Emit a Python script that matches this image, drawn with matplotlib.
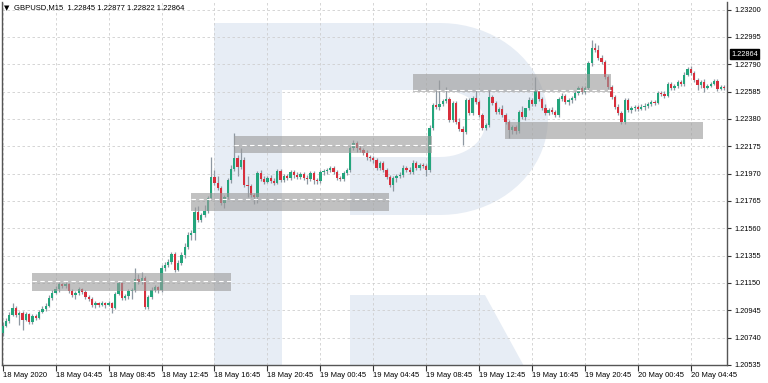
import numpy as np
import matplotlib.pyplot as plt
import matplotlib.transforms as mtransforms
from matplotlib.patches import Rectangle, Polygon

# GBPUSD M15 candles, 18 May 00:45 onwards
first_open = 1.20774
close = [
    1.20827, 1.20864, 1.20909, 1.20962, 1.20909, 1.20924, 1.20872, 1.20917, 1.20857, 1.20902,
    1.20887, 1.20932, 1.20954, 1.20977, 1.21037, 1.21074, 1.21104, 1.21142, 1.21127, 1.21142,
    1.21089, 1.21059, 1.21074, 1.21104, 1.21082, 1.21044, 1.21029, 1.20984, 1.20999, 1.20984,
    1.20999, 1.20984, 1.20999, 1.20962, 1.21067, 1.21149, 1.21037, 1.21052, 1.21089, 1.21097,
    1.21179, 1.21157, 1.21187, 1.20969, 1.21044, 1.21097, 1.21119, 1.21097, 1.21262, 1.21284,
    1.21307, 1.21367, 1.21247, 1.21299, 1.21359, 1.21419, 1.21509, 1.21524, 1.21682, 1.21622,
    1.21659, 1.21689, 1.21787, 1.21944, 1.21899, 1.21862, 1.21749, 1.21794, 1.21922, 1.22004,
    1.22087, 1.22019, 1.22072, 1.21884, 1.21877, 1.21809, 1.21794, 1.21974, 1.21929, 1.21907,
    1.21937, 1.21914, 1.21899, 1.21989, 1.21922, 1.21952, 1.21937, 1.21982, 1.21959, 1.21944,
    1.21967, 1.21937, 1.21929, 1.21974, 1.21922, 1.21914, 1.21982, 1.21989, 1.21997, 1.22012,
    1.21982, 1.21937, 1.21929, 1.21974, 1.21997, 1.22162, 1.22199, 1.22162, 1.22147, 1.22124,
    1.22094, 1.22087, 1.22072, 1.22012, 1.22049, 1.21997, 1.21944, 1.21884, 1.21937, 1.21952,
    1.21959, 1.22012, 1.21997, 1.21982, 1.22049, 1.22012, 1.22034, 1.22027, 1.21997, 1.22312,
    1.22484, 1.22469, 1.22492, 1.22514, 1.22529, 1.22372, 1.22499, 1.22357, 1.22304, 1.22282,
    1.22522, 1.22424, 1.22537, 1.22507, 1.22409, 1.22312, 1.22334, 1.22544, 1.22499, 1.22432,
    1.22454, 1.22409, 1.22357, 1.22297, 1.22319, 1.22289, 1.22432, 1.22394, 1.22462, 1.22522,
    1.22492, 1.22589, 1.22529, 1.22462, 1.22424, 1.22447, 1.22432, 1.22409, 1.22529, 1.22552,
    1.22507, 1.22522, 1.22537, 1.22574, 1.22612, 1.22582, 1.22612, 1.22799, 1.22912, 1.22897,
    1.22837, 1.22807, 1.22694, 1.22619, 1.22544, 1.22469, 1.22424, 1.22357, 1.22522, 1.22447,
    1.22462, 1.22469, 1.22454, 1.22469, 1.22477, 1.22492, 1.22507, 1.22499, 1.22574, 1.22567,
    1.22552, 1.22642, 1.22612, 1.22627, 1.22657, 1.22642, 1.22709, 1.22754, 1.22724, 1.22672,
    1.22634, 1.22657, 1.22612, 1.22627, 1.22642, 1.22664, 1.22604, 1.22619, 1.22612,
]
high = [
    1.20857, 1.20887, 1.20932, 1.20999, 1.20977, 1.20939, 1.20939, 1.20932, 1.20924, 1.20917,
    1.20917, 1.20947, 1.20977, 1.20999, 1.21059, 1.21097, 1.21127, 1.21157, 1.21149, 1.21157,
    1.21149, 1.21104, 1.21089, 1.21119, 1.21112, 1.21097, 1.21059, 1.21044, 1.21014, 1.21007,
    1.21014, 1.21007, 1.21014, 1.21007, 1.21082, 1.21164, 1.21157, 1.21067, 1.21104, 1.21112,
    1.21262, 1.21217, 1.21232, 1.21202, 1.21059, 1.21119, 1.21134, 1.21127, 1.21284, 1.21307,
    1.21329, 1.21382, 1.21382, 1.21322, 1.21382, 1.21449, 1.21532, 1.21547, 1.21719, 1.21727,
    1.21674, 1.21734, 1.21802, 1.22094, 1.21997, 1.21952, 1.21877, 1.21809, 1.21937, 1.22034,
    1.22274, 1.22109, 1.22162, 1.22094, 1.21952, 1.21892, 1.21824, 1.21989, 1.21997, 1.21952,
    1.21952, 1.21959, 1.21937, 1.22004, 1.22004, 1.21967, 1.21967, 1.21997, 1.21997, 1.21982,
    1.21982, 1.21982, 1.21959, 1.21989, 1.21989, 1.21937, 1.21997, 1.22004, 1.22012, 1.22027,
    1.22027, 1.21997, 1.21952, 1.21989, 1.22012, 1.22177, 1.22222, 1.22214, 1.22184, 1.22162,
    1.22147, 1.22109, 1.22102, 1.22087, 1.22064, 1.22064, 1.22012, 1.21959, 1.21952, 1.21967,
    1.21982, 1.22034, 1.22027, 1.22019, 1.22072, 1.22064, 1.22049, 1.22049, 1.22042, 1.22334,
    1.22499, 1.22597, 1.22672, 1.22529, 1.22619, 1.22544, 1.22514, 1.22514, 1.22387, 1.22327,
    1.22537, 1.22537, 1.22552, 1.22597, 1.22522, 1.22424, 1.22349, 1.22597, 1.22559, 1.22514,
    1.22469, 1.22484, 1.22424, 1.22372, 1.22334, 1.22334, 1.22447, 1.22477, 1.22462, 1.22544,
    1.22537, 1.22694, 1.22604, 1.22544, 1.22492, 1.22462, 1.22469, 1.22447, 1.22544, 1.22574,
    1.22567, 1.22537, 1.22552, 1.22589, 1.22627, 1.22627, 1.22627, 1.22814, 1.22972, 1.22949,
    1.22934, 1.22859, 1.22822, 1.22709, 1.22634, 1.22559, 1.22492, 1.22439, 1.22537, 1.22537,
    1.22477, 1.22484, 1.22484, 1.22492, 1.22499, 1.22507, 1.22522, 1.22522, 1.22589, 1.22589,
    1.22589, 1.22657, 1.22657, 1.22642, 1.22672, 1.22672, 1.22732, 1.22769, 1.22777, 1.22739,
    1.22687, 1.22672, 1.22679, 1.22642, 1.22657, 1.22679, 1.22679, 1.22634, 1.22634,
]
low = [
    1.20752, 1.20819, 1.20849, 1.20902, 1.20894, 1.20834, 1.20797, 1.20864, 1.20842, 1.20842,
    1.20872, 1.20879, 1.20924, 1.20939, 1.20969, 1.21022, 1.21067, 1.21082, 1.21112, 1.21112,
    1.21074, 1.21044, 1.21029, 1.21059, 1.21067, 1.21029, 1.21014, 1.20969, 1.20962, 1.20969,
    1.20977, 1.20962, 1.20977, 1.20924, 1.20954, 1.21059, 1.21022, 1.21022, 1.21029, 1.21029,
    1.21082, 1.21142, 1.21142, 1.20954, 1.20954, 1.21029, 1.21082, 1.21074, 1.21082, 1.21239,
    1.21269, 1.21292, 1.21232, 1.21239, 1.21284, 1.21337, 1.21404, 1.21472, 1.21472, 1.21607,
    1.21607, 1.21644, 1.21674, 1.21772, 1.21884, 1.21847, 1.21734, 1.21712, 1.21779, 1.21899,
    1.21989, 1.21952, 1.22004, 1.21869, 1.21794, 1.21794, 1.21742, 1.21749, 1.21914, 1.21892,
    1.21899, 1.21899, 1.21884, 1.21892, 1.21907, 1.21907, 1.21922, 1.21922, 1.21937, 1.21929,
    1.21929, 1.21922, 1.21892, 1.21914, 1.21892, 1.21892, 1.21899, 1.21959, 1.21967, 1.21982,
    1.21967, 1.21922, 1.21914, 1.21914, 1.21959, 1.21982, 1.22147, 1.22132, 1.22132, 1.22109,
    1.22072, 1.22064, 1.22049, 1.21997, 1.21997, 1.21982, 1.21929, 1.21869, 1.21839, 1.21907,
    1.21937, 1.21944, 1.21982, 1.21967, 1.21967, 1.21997, 1.21997, 1.22012, 1.21952, 1.21982,
    1.22297, 1.22454, 1.22447, 1.22477, 1.22499, 1.22357, 1.22357, 1.22342, 1.22289, 1.22184,
    1.22267, 1.22409, 1.22409, 1.22492, 1.22394, 1.22297, 1.22297, 1.22319, 1.22484, 1.22417,
    1.22417, 1.22394, 1.22342, 1.22237, 1.22267, 1.22267, 1.22274, 1.22379, 1.22372, 1.22447,
    1.22477, 1.22477, 1.22514, 1.22447, 1.22409, 1.22409, 1.22417, 1.22394, 1.22394, 1.22514,
    1.22492, 1.22484, 1.22499, 1.22522, 1.22559, 1.22567, 1.22567, 1.22597, 1.22777, 1.22882,
    1.22822, 1.22792, 1.22679, 1.22604, 1.22529, 1.22454, 1.22409, 1.22342, 1.22342, 1.22432,
    1.22424, 1.22439, 1.22439, 1.22447, 1.22447, 1.22462, 1.22477, 1.22484, 1.22492, 1.22552,
    1.22537, 1.22544, 1.22597, 1.22597, 1.22612, 1.22627, 1.22627, 1.22702, 1.22709, 1.22657,
    1.22597, 1.22612, 1.22582, 1.22604, 1.22619, 1.22634, 1.22589, 1.22597, 1.22597,
]
open_ = [first_open] + close[:-1]

time_labels = [
    "18 May 2020", "18 May 04:45", "18 May 08:45", "18 May 12:45", "18 May 16:45",
    "18 May 20:45", "19 May 00:45", "19 May 04:45", "19 May 08:45", "19 May 12:45",
    "19 May 16:45", "19 May 20:45", "20 May 00:45", "20 May 04:45",
]
bars_per_label = 16
price_ticks = [1.20535, 1.20740, 1.20945, 1.21150, 1.21355, 1.21560, 1.21765,
               1.21970, 1.22175, 1.22380, 1.22585, 1.22790, 1.22995, 1.23200]

# support / resistance zones: first bar, last bar, low, high, dashed level
zones = [
    (8.9, 69.0, 1.21089, 1.21225, 1.21164),
    (56.9, 116.7, 1.21690, 1.21825, 1.21780),
    (69.9, 129.7, 1.22125, 1.22252, 1.22184),
    (124.0, 183.8, 1.22582, 1.22717, 1.22597),
    (151.8, 211.6, 1.22230, 1.22357, None),
]
last_price = 1.22864
title = "GBPUSD,M15  1.22845 1.22877 1.22822 1.22864"

W, H = 768, 383
fonts = ["Liberation Sans", "DejaVu Sans"]
plt.rcParams["font.family"] = fonts

fig = plt.figure(figsize=(W / 100, H / 100), dpi=100)
fig.patch.set_facecolor("white")
ax = fig.add_axes([2 / W, 1 - 365 / H, 725 / W, 363 / H])

# watermark logo, drawn in pixel space
px = mtransforms.Affine2D().scale(1 / W, -1 / H).translate(0, 1) + fig.transFigure
wm = "#e7edf5"
ax.add_patch(Polygon([(214, 23), (282, 23), (282, 368), (214, 368)], closed=True,
                     transform=px, fc=wm, ec="none", zorder=0))
t_out = np.linspace(-np.pi / 2, np.pi / 2, 40)
t_in = np.linspace(np.pi / 2, -np.pi / 2, 30)
bowl = [(282, 23)]
bowl += [(440 + 108 * np.cos(t), 119 + 96 * np.sin(t)) for t in t_out]
bowl += [(350, 215), (350, 157)]
bowl += [(440 + 45 * np.cos(t), 123.5 + 33.5 * np.sin(t)) for t in t_in]
bowl += [(282, 90)]
ax.add_patch(Polygon(bowl, closed=True, transform=px, fc=wm, ec="none", zorder=0))
ax.add_patch(Polygon([(350, 295), (485, 295), (525, 368), (350, 368)], closed=True,
                     transform=px, fc=wm, ec="none", zorder=0))

idx = np.arange(len(close))
o = np.array(open_)
c = np.array(close)
up = c >= o
ax.vlines(idx, low, high, colors="#8e98a2", lw=0.9, zorder=2)
body = np.maximum(np.abs(c - o), 0.00003)
ax.bar(idx[up], body[up], bottom=o[up], width=0.7, color="#23a57c", zorder=3)
ax.bar(idx[~up], body[~up], bottom=c[~up], width=0.7, color="#d72f3c", zorder=3)

for x0, x1, lo, hi, lvl in zones:
    ax.add_patch(Rectangle((x0, lo), x1 - x0, hi - lo, fc="#9c9c9c", ec="none",
                           alpha=0.62, zorder=4))
    if lvl is not None:
        ax.hlines(lvl, x0, x1, colors="white", linestyles=(0, (4, 3)), lw=0.8, zorder=5)

ax.set_xlim(-0.21, 218.9)
ax.set_ylim(1.20535, 1.23257)

ax.set_xticks(np.arange(len(time_labels)) * bars_per_label)
ax.set_xticklabels(time_labels, ha="left")
ax.yaxis.tick_right()
ax.set_yticks(price_ticks)
ax.set_yticklabels([f"{p:.5f}" for p in price_ticks])
ax.tick_params(axis="x", length=4, width=0.8, pad=1, labelsize=5.5, colors="#333333",
               labelcolor="black")
ax.tick_params(axis="y", length=3, width=0.8, pad=2, labelsize=5.3, colors="#333333",
               labelcolor="black")
ax.grid(True, color="#cfcfcf", linestyle=(0, (3, 3)), lw=0.6, zorder=1)
ax.set_axisbelow(True)
for side in ["left", "bottom", "right"]:
    ax.spines[side].set_color("#555555")
    ax.spines[side].set_linewidth(1)
ax.spines["top"].set_visible(False)

ax.annotate(f"{last_price:.5f}", xy=(1.0, last_price), xycoords=("axes fraction", "data"),
            xytext=(3, 0), textcoords="offset points", va="center", ha="left",
            fontsize=5.3, color="white",
            bbox=dict(boxstyle="square,pad=0.2", fc="black", ec="black"))

fig.text(4 / W, 1 - 8 / H, "\u25bc", fontsize=5, va="center", ha="left", family=["DejaVu Sans"])
fig.text(14 / W, 1 - 8 / H, title, fontsize=5.5, va="center", ha="left")

fig.savefig("out.png", dpi=100)
